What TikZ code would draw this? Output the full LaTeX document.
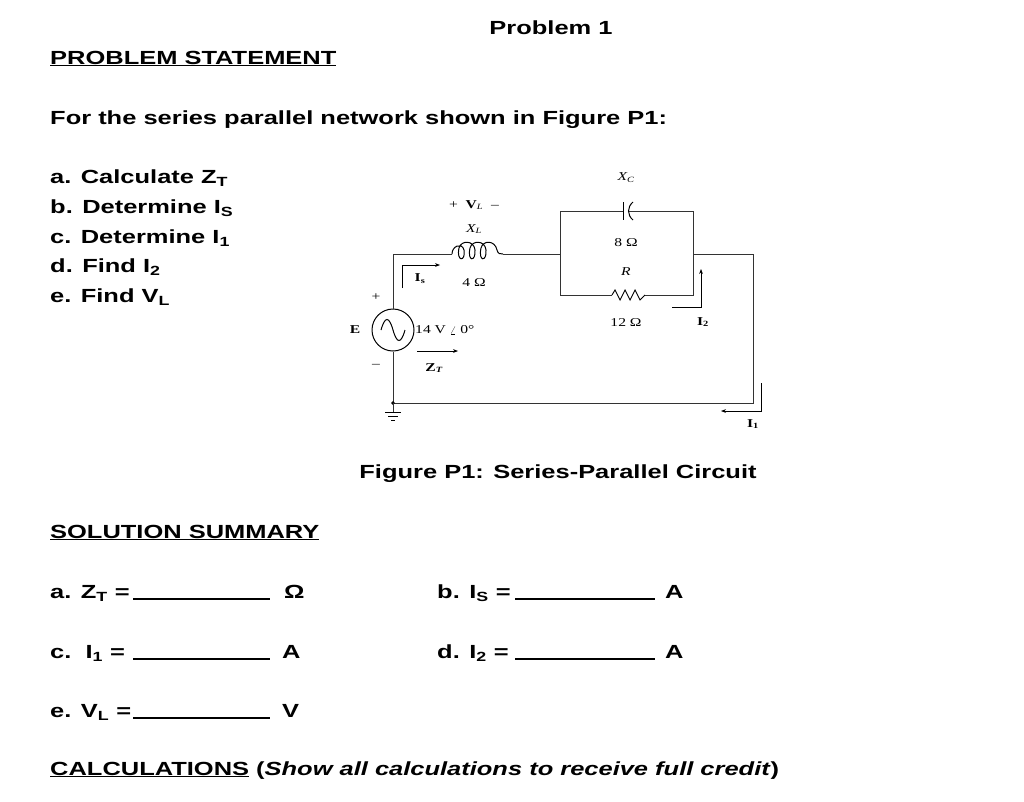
\documentclass[tikz,border=0pt]{standalone}
\usepackage{fontspec}
\setmainfont[FakeStretch=1.34]{Liberation Sans}
\newfontfamily\serf[FakeStretch=1.3]{Liberation Serif}
\usetikzlibrary{decorations.pathmorphing,arrows.meta}
\begin{document}
\begin{tikzpicture}[x=1pt,y=-1pt,
  txt/.style={font=\fontsize{19}{22}\selectfont\bfseries,inner sep=0,anchor=base west},
  ctxt/.style={font=\fontsize{12}{14}\serf,inner sep=0},
  wire/.style={line width=0.8pt,black!80},
  blank/.style={line width=1.2pt},
  cur/.style={line width=0.6pt,-{Stealth[length=5pt]}}]
\useasboundingbox (0,0) rectangle (1024,801);
% texts
\node[txt,anchor=base] (p1) at (551,34) {Problem 1};
\node[txt] (ps) at (50,64) {\underline{PROBLEM STATEMENT}};
\node[txt] (for) at (50,124) {For the series parallel network shown in Figure P1:};
\node[txt] (la) at (50,183) {a. Calculate Z\textsubscript{T}};
\node[txt] (lb) at (50,213) {b. Determine I\textsubscript{S}};
\node[txt] (lc) at (50,243) {c. Determine I\textsubscript{1}};
\node[txt] (ld) at (50,272) {d. Find I\textsubscript{2}};
\node[txt] (le) at (50,302) {e. Find V\textsubscript{L}};
\node[txt,anchor=base] (cap) at (558,478) {Figure P1: Series-Parallel Circuit};
\node[txt] (ss) at (50,538) {\underline{SOLUTION SUMMARY}};
\node[txt] (sa) at (50,598) {a. Z\textsubscript{T} =};
\node[txt] (sau) at (284,598) {Ω};
\draw[blank] (133,599) -- (270,599);
\node[txt] (sb) at (437,598) {b. I\textsubscript{S} =};
\node[txt] (sbu) at (665,598) {A};
\draw[blank] (515,599) -- (655,599);
\node[txt] (sc) at (50,658) {c.\ \ I\textsubscript{1} =};
\node[txt] (scu) at (282,658) {A};
\draw[blank] (133,659) -- (270,659);
\node[txt] (sd) at (437,658) {d. I\textsubscript{2} =};
\node[txt] (sdu) at (665,658) {A};
\draw[blank] (515,659) -- (655,659);
\node[txt] (se) at (50,717) {e. V\textsubscript{L} =};
\node[txt] (seu) at (282,717) {V};
\draw[blank] (133,718) -- (270,718);
\node[txt] (calc) at (50,775) {\underline{CALCULATIONS} (\textit{Show all calculations to receive full credit})};
% circuit
\coordinate (tl) at (393,254);
\coordinate (bl) at (393,403);
\coordinate (br) at (753,403);
\coordinate (tr) at (753,254);
\node[circle,draw,line width=1pt,minimum size=42pt,inner sep=0] (src) at (393,330) {};
\draw[line width=1pt] (381,330) .. controls (385,316) and (389,316) .. (393,330) .. controls (397,344) and (401,344) .. (405,330);
\coordinate (l1) at (452,254); \coordinate (l2) at (503,254);
\coordinate (pl) at (560,254); \coordinate (pr) at (693,254);
\draw[wire] (src.north) -- (tl) -- (l1);
\draw[line width=1pt] (l1) .. controls (452,246) and (462,242) .. (464,250)
  .. controls (466,262) and (456,262) .. (459,248) .. controls (461,240) and (474,240) .. (475,250)
  .. controls (476,262) and (467,262) .. (470,248) .. controls (472,240) and (485,240) .. (486,250)
  .. controls (487,262) and (478,262) .. (481,248) .. controls (483,240) and (495,240) .. (497,250)
  .. controls (498,254) and (500,254) .. (l2);
\draw[wire] (l2) -- (pl) -- (560,211) -- (623,211);
\draw[wire] (629,211) -- (693,211) -- (pr) -- (tr) -- (br) -- (bl) -- (src.south);
\draw[line width=1pt] (623,202) -- (623,220);
\draw[line width=1pt] (633,202) .. controls (627,207) and (627,215) .. (633,220);
\draw[wire] (pl) -- (560,295) -- (612,295);
\draw[line width=0.9pt] (612,295) -- (615,290) -- (620,300) -- (625,290) -- (630,300) -- (635,290) -- (640,300) -- (645,295);
\draw[wire] (645,295) -- (693,295) -- (pr);
\draw[fill] (bl) circle (1.5);
\draw[wire] (bl) -- (393,412);
\draw[line width=1pt] (385,412) -- (401,412) (388,416) -- (398,416) (391,420) -- (395,420);
% labels
\node[ctxt] (xc) at (626,178) {\itshape X\textsubscript{C}};
\node[ctxt] (o8) at (626,243) {8 Ω};
\node[ctxt] (rr) at (626,272) {\itshape R};
\node[ctxt] (o12) at (626,323) {12 Ω};
\node[ctxt] (vl) at (474,205) {+ \ \textbf{V}\textsubscript{\itshape L} \ –};
\node[ctxt] (xl) at (474,229) {\itshape X\textsubscript{L}};
\node[ctxt] (o4) at (474,283) {4 Ω};
\node[ctxt] (ee) at (355,330) {\bfseries E};
\node[ctxt] (plus) at (376,297) {+};
\node[ctxt] (minus) at (376,366) {–};
\node[ctxt,anchor=west] (val) at (415,330) {14 V $\angle$ 0°};
\node[ctxt] (zt) at (434,368) {\bfseries Z\textsubscript{\itshape T}};
\node[ctxt] (is) at (420,279) {\bfseries I\textsubscript{s}};
\node[ctxt] (i2) at (703,322) {\bfseries I\textsubscript{2}};
\node[ctxt] (i1) at (753,424) {\bfseries I\textsubscript{1}};
\coordinate (isa) at (402,288); \coordinate (isb) at (440,265);
\draw[cur] (isa) |- (isb);
\coordinate (zta) at (417,351); \coordinate (ztb) at (458,351);
\draw[cur] (zta) -- (ztb);
\coordinate (i2a) at (672,307); \coordinate (i2b) at (701,269);
\draw[cur] (i2a) -| (i2b);
\coordinate (i1a) at (761,383); \coordinate (i1b) at (721,411);
\draw[cur] (i1a) |- (i1b);
\end{tikzpicture}
\end{document}
